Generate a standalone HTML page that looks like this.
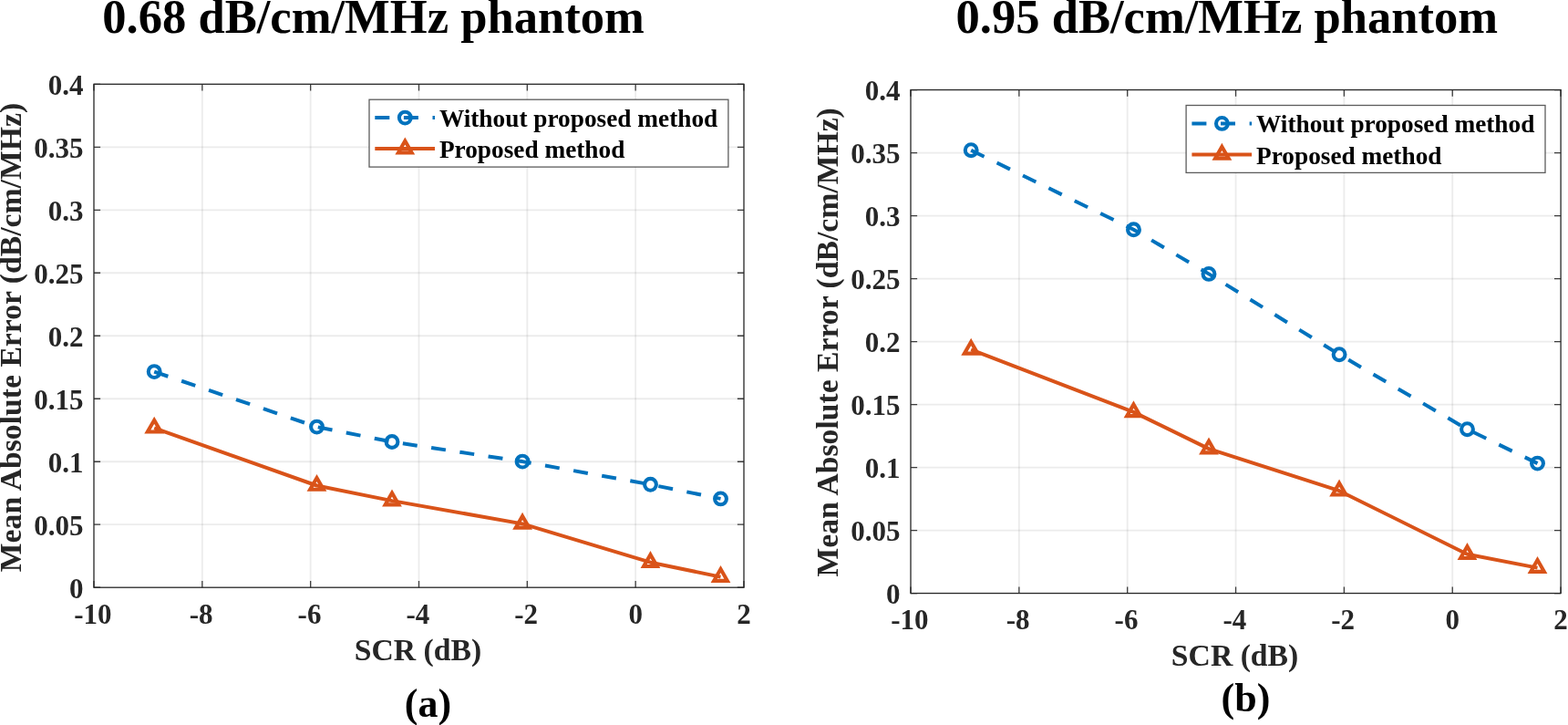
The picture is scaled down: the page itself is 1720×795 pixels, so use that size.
<!DOCTYPE html>
<html><head><meta charset="utf-8"><title>Mean Absolute Error vs SCR</title>
<style>
html,body{margin:0;padding:0;background:#fff;}
body{width:1720px;height:795px;overflow:hidden;}
svg{display:block;}
text{font-family:"Liberation Serif","Times New Roman",serif;font-weight:bold;}
.tt{font-size:52.6px;fill:#000;}
.tk{font-size:31px;fill:#262626;}
.lb{font-size:33.7px;fill:#262626;}
.lg{font-size:27.3px;fill:#000;}
.cp{font-size:44px;fill:#000;}
</style></head><body>
<svg width="1720" height="795" viewBox="0 0 1720 795">
<rect width="1720" height="795" fill="#fff"/>
<text x="409.5" y="35.8" text-anchor="middle" class="tt">0.68 dB/cm/MHz phantom</text>
<text x="1345.75" y="35.8" text-anchor="middle" class="tt">0.95 dB/cm/MHz phantom</text>
<path d="M221.83 92.3V644.2 M340.67 92.3V644.2 M459.5 92.3V644.2 M578.33 92.3V644.2 M697.17 92.3V644.2" stroke="#262626" stroke-opacity="0.088" stroke-width="1.8" fill="none"/>
<path d="M103 575.21H816 M103 506.23H816 M103 437.24H816 M103 368.25H816 M103 299.26H816 M103 230.28H816 M103 161.29H816" stroke="#262626" stroke-opacity="0.088" stroke-width="1.8" fill="none"/>
<polyline points="169.2,407.6 347.5,468.1 430,484.5 573.1,506.1 713.5,531.3 790.5,546.9" fill="none" stroke="#0072BD" stroke-width="4.0" stroke-dasharray="16 15.6" stroke-linejoin="round"/>
<polyline points="169.2,469.3 347.5,532.5 430,549.1 573.1,574.4 713.5,616.7 790.5,632.6" fill="none" stroke="#D95319" stroke-width="4.0" stroke-linejoin="round"/>
<circle cx="169.2" cy="407.6" r="6.4" fill="none" stroke="#0072BD" stroke-width="4.1"/>
<circle cx="347.5" cy="468.1" r="6.4" fill="none" stroke="#0072BD" stroke-width="4.1"/>
<circle cx="430" cy="484.5" r="6.4" fill="none" stroke="#0072BD" stroke-width="4.1"/>
<circle cx="573.1" cy="506.1" r="6.4" fill="none" stroke="#0072BD" stroke-width="4.1"/>
<circle cx="713.5" cy="531.3" r="6.4" fill="none" stroke="#0072BD" stroke-width="4.1"/>
<circle cx="790.5" cy="546.9" r="6.4" fill="none" stroke="#0072BD" stroke-width="4.1"/>
<path d="M169.2 460.8 L176.56 473.55 L161.84 473.55 Z" fill="none" stroke="#D95319" stroke-width="4.1" stroke-linejoin="miter"/>
<path d="M347.5 524 L354.86 536.75 L340.14 536.75 Z" fill="none" stroke="#D95319" stroke-width="4.1" stroke-linejoin="miter"/>
<path d="M430 540.6 L437.36 553.35 L422.64 553.35 Z" fill="none" stroke="#D95319" stroke-width="4.1" stroke-linejoin="miter"/>
<path d="M573.1 565.9 L580.46 578.65 L565.74 578.65 Z" fill="none" stroke="#D95319" stroke-width="4.1" stroke-linejoin="miter"/>
<path d="M713.5 608.2 L720.86 620.95 L706.14 620.95 Z" fill="none" stroke="#D95319" stroke-width="4.1" stroke-linejoin="miter"/>
<path d="M790.5 624.1 L797.86 636.85 L783.14 636.85 Z" fill="none" stroke="#D95319" stroke-width="4.1" stroke-linejoin="miter"/>
<rect x="103" y="92.3" width="713" height="551.9" fill="none" stroke="#262626" stroke-width="1.3"/>
<path d="M103 644.2v-7.13 M103 92.3v7.13 M221.83 644.2v-7.13 M221.83 92.3v7.13 M340.67 644.2v-7.13 M340.67 92.3v7.13 M459.5 644.2v-7.13 M459.5 92.3v7.13 M578.33 644.2v-7.13 M578.33 92.3v7.13 M697.17 644.2v-7.13 M697.17 92.3v7.13 M816 644.2v-7.13 M816 92.3v7.13 M103 644.2h7.13 M816 644.2h-7.13 M103 575.21h7.13 M816 575.21h-7.13 M103 506.23h7.13 M816 506.23h-7.13 M103 437.24h7.13 M816 437.24h-7.13 M103 368.25h7.13 M816 368.25h-7.13 M103 299.26h7.13 M816 299.26h-7.13 M103 230.28h7.13 M816 230.28h-7.13 M103 161.29h7.13 M816 161.29h-7.13 M103 92.3h7.13 M816 92.3h-7.13" stroke="#262626" stroke-width="1.3" stroke-opacity="0.88" fill="none"/>
<text transform="translate(101.8 683.6) scale(1 1.04)" text-anchor="middle" class="tk">-10</text>
<text transform="translate(220.63 683.6) scale(1 1.04)" text-anchor="middle" class="tk">-8</text>
<text transform="translate(339.47 683.6) scale(1 1.04)" text-anchor="middle" class="tk">-6</text>
<text transform="translate(458.3 683.6) scale(1 1.04)" text-anchor="middle" class="tk">-4</text>
<text transform="translate(577.13 683.6) scale(1 1.04)" text-anchor="middle" class="tk">-2</text>
<text transform="translate(697.17 683.6) scale(1 1.04)" text-anchor="middle" class="tk">0</text>
<text transform="translate(816 683.6) scale(1 1.04)" text-anchor="middle" class="tk">2</text>
<text transform="translate(91.5 656.1) scale(1 1.04)" text-anchor="end" class="tk">0</text>
<text transform="translate(91.5 587.11) scale(1 1.04)" text-anchor="end" class="tk">0.05</text>
<text transform="translate(91.5 518.12) scale(1 1.04)" text-anchor="end" class="tk">0.1</text>
<text transform="translate(91.5 449.14) scale(1 1.04)" text-anchor="end" class="tk">0.15</text>
<text transform="translate(91.5 380.15) scale(1 1.04)" text-anchor="end" class="tk">0.2</text>
<text transform="translate(91.5 311.16) scale(1 1.04)" text-anchor="end" class="tk">0.25</text>
<text transform="translate(91.5 242.18) scale(1 1.04)" text-anchor="end" class="tk">0.3</text>
<text transform="translate(91.5 173.19) scale(1 1.04)" text-anchor="end" class="tk">0.35</text>
<text transform="translate(91.5 104.2) scale(1 1.04)" text-anchor="end" class="tk">0.4</text>
<text x="458.5" y="723.6" text-anchor="middle" class="lb">SCR (dB)</text>
<text transform="translate(23.3 370.05) rotate(-90)" text-anchor="middle" class="lb">Mean Absolute Error (dB/cm/MHz)</text>
<rect x="405" y="109.2" width="393.9" height="73.9" fill="#fff" stroke="#262626" stroke-opacity="0.75" stroke-width="1.3"/>
<path d="M411.3 129.1H477" stroke="#0072BD" stroke-width="4.0" stroke-dasharray="16 15.6" fill="none"/>
<circle cx="444.3" cy="129.1" r="6.4" fill="none" stroke="#0072BD" stroke-width="4.1"/>
<path d="M411.3 163.1H477" stroke="#D95319" stroke-width="4.0" fill="none"/>
<path d="M444.3 154.6 L451.66 167.35 L436.94 167.35 Z" fill="none" stroke="#D95319" stroke-width="4.1"/>
<text x="481.9" y="139" class="lg">Without proposed method</text>
<text x="481.9" y="173.4" class="lg">Proposed method</text>
<path d="M1117.85 98.55V650.56 M1236.7 98.55V650.56 M1355.55 98.55V650.56 M1474.4 98.55V650.56 M1593.25 98.55V650.56" stroke="#262626" stroke-opacity="0.088" stroke-width="1.8" fill="none"/>
<path d="M999 581.56H1712.1 M999 512.56H1712.1 M999 443.56H1712.1 M999 374.55H1712.1 M999 305.55H1712.1 M999 236.55H1712.1 M999 167.55H1712.1" stroke="#262626" stroke-opacity="0.088" stroke-width="1.8" fill="none"/>
<polyline points="1065.2,164.7 1243.5,251.8 1326,300.4 1469.1,388.7 1609.5,470.7 1686.5,508.1" fill="none" stroke="#0072BD" stroke-width="4.0" stroke-dasharray="16 15.6" stroke-linejoin="round"/>
<polyline points="1065.2,383.4 1243.5,451.9 1326,492.1 1469.1,538.2 1609.5,607.7 1686.5,622.6" fill="none" stroke="#D95319" stroke-width="4.0" stroke-linejoin="round"/>
<circle cx="1065.2" cy="164.7" r="6.4" fill="none" stroke="#0072BD" stroke-width="4.1"/>
<circle cx="1243.5" cy="251.8" r="6.4" fill="none" stroke="#0072BD" stroke-width="4.1"/>
<circle cx="1326" cy="300.4" r="6.4" fill="none" stroke="#0072BD" stroke-width="4.1"/>
<circle cx="1469.1" cy="388.7" r="6.4" fill="none" stroke="#0072BD" stroke-width="4.1"/>
<circle cx="1609.5" cy="470.7" r="6.4" fill="none" stroke="#0072BD" stroke-width="4.1"/>
<circle cx="1686.5" cy="508.1" r="6.4" fill="none" stroke="#0072BD" stroke-width="4.1"/>
<path d="M1065.2 374.9 L1072.56 387.65 L1057.84 387.65 Z" fill="none" stroke="#D95319" stroke-width="4.1" stroke-linejoin="miter"/>
<path d="M1243.5 443.4 L1250.86 456.15 L1236.14 456.15 Z" fill="none" stroke="#D95319" stroke-width="4.1" stroke-linejoin="miter"/>
<path d="M1326 483.6 L1333.36 496.35 L1318.64 496.35 Z" fill="none" stroke="#D95319" stroke-width="4.1" stroke-linejoin="miter"/>
<path d="M1469.1 529.7 L1476.46 542.45 L1461.74 542.45 Z" fill="none" stroke="#D95319" stroke-width="4.1" stroke-linejoin="miter"/>
<path d="M1609.5 599.2 L1616.86 611.95 L1602.14 611.95 Z" fill="none" stroke="#D95319" stroke-width="4.1" stroke-linejoin="miter"/>
<path d="M1686.5 614.1 L1693.86 626.85 L1679.14 626.85 Z" fill="none" stroke="#D95319" stroke-width="4.1" stroke-linejoin="miter"/>
<rect x="999" y="98.55" width="713.1" height="552.01" fill="none" stroke="#262626" stroke-width="1.3"/>
<path d="M999 650.56v-7.13 M999 98.55v7.13 M1117.85 650.56v-7.13 M1117.85 98.55v7.13 M1236.7 650.56v-7.13 M1236.7 98.55v7.13 M1355.55 650.56v-7.13 M1355.55 98.55v7.13 M1474.4 650.56v-7.13 M1474.4 98.55v7.13 M1593.25 650.56v-7.13 M1593.25 98.55v7.13 M1712.1 650.56v-7.13 M1712.1 98.55v7.13 M999 650.56h7.13 M1712.1 650.56h-7.13 M999 581.56h7.13 M1712.1 581.56h-7.13 M999 512.56h7.13 M1712.1 512.56h-7.13 M999 443.56h7.13 M1712.1 443.56h-7.13 M999 374.55h7.13 M1712.1 374.55h-7.13 M999 305.55h7.13 M1712.1 305.55h-7.13 M999 236.55h7.13 M1712.1 236.55h-7.13 M999 167.55h7.13 M1712.1 167.55h-7.13 M999 98.55h7.13 M1712.1 98.55h-7.13" stroke="#262626" stroke-width="1.3" stroke-opacity="0.88" fill="none"/>
<text transform="translate(997.8 689.96) scale(1 1.04)" text-anchor="middle" class="tk">-10</text>
<text transform="translate(1116.65 689.96) scale(1 1.04)" text-anchor="middle" class="tk">-8</text>
<text transform="translate(1235.5 689.96) scale(1 1.04)" text-anchor="middle" class="tk">-6</text>
<text transform="translate(1354.35 689.96) scale(1 1.04)" text-anchor="middle" class="tk">-4</text>
<text transform="translate(1473.2 689.96) scale(1 1.04)" text-anchor="middle" class="tk">-2</text>
<text transform="translate(1593.25 689.96) scale(1 1.04)" text-anchor="middle" class="tk">0</text>
<text transform="translate(1712.1 689.96) scale(1 1.04)" text-anchor="middle" class="tk">2</text>
<text transform="translate(987.5 662.46) scale(1 1.04)" text-anchor="end" class="tk">0</text>
<text transform="translate(987.5 593.46) scale(1 1.04)" text-anchor="end" class="tk">0.05</text>
<text transform="translate(987.5 524.46) scale(1 1.04)" text-anchor="end" class="tk">0.1</text>
<text transform="translate(987.5 455.46) scale(1 1.04)" text-anchor="end" class="tk">0.15</text>
<text transform="translate(987.5 386.45) scale(1 1.04)" text-anchor="end" class="tk">0.2</text>
<text transform="translate(987.5 317.45) scale(1 1.04)" text-anchor="end" class="tk">0.25</text>
<text transform="translate(987.5 248.45) scale(1 1.04)" text-anchor="end" class="tk">0.3</text>
<text transform="translate(987.5 179.45) scale(1 1.04)" text-anchor="end" class="tk">0.35</text>
<text transform="translate(987.5 110.45) scale(1 1.04)" text-anchor="end" class="tk">0.4</text>
<text x="1354.55" y="729.96" text-anchor="middle" class="lb">SCR (dB)</text>
<text transform="translate(919.3 375.35) rotate(-90)" text-anchor="middle" class="lb">Mean Absolute Error (dB/cm/MHz)</text>
<rect x="1301.1" y="115.5" width="393.9" height="73.9" fill="#fff" stroke="#262626" stroke-opacity="0.75" stroke-width="1.3"/>
<path d="M1307.4 135.4H1373.1" stroke="#0072BD" stroke-width="4.0" stroke-dasharray="16 15.6" fill="none"/>
<circle cx="1340.4" cy="135.4" r="6.4" fill="none" stroke="#0072BD" stroke-width="4.1"/>
<path d="M1307.4 169.4H1373.1" stroke="#D95319" stroke-width="4.0" fill="none"/>
<path d="M1340.4 160.9 L1347.76 173.65 L1333.04 173.65 Z" fill="none" stroke="#D95319" stroke-width="4.1"/>
<text x="1378" y="145.3" class="lg">Without proposed method</text>
<text x="1378" y="179.7" class="lg">Proposed method</text>
<text x="469.5" y="786" text-anchor="middle" class="cp">(a)</text>
<text x="1366.5" y="779.5" text-anchor="middle" class="cp">(b)</text>
</svg>
</body></html>
